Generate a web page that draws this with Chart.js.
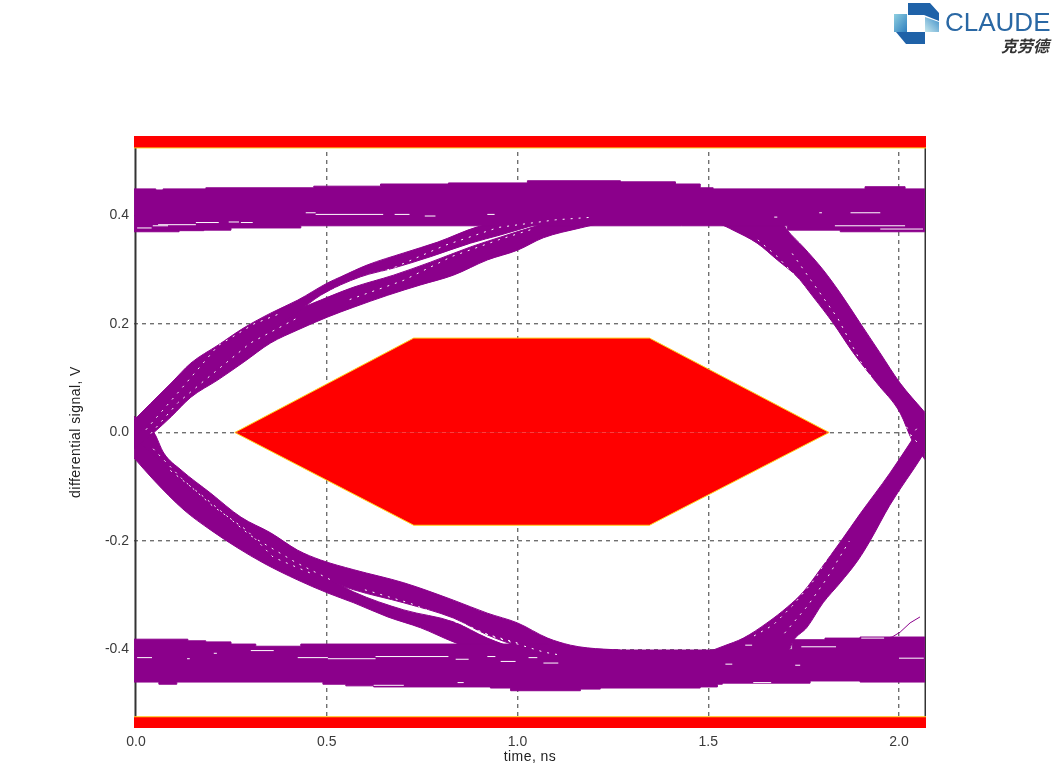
<!DOCTYPE html>
<html><head><meta charset="utf-8">
<style>
html,body{margin:0;padding:0;background:#fff;width:1058px;height:778px;overflow:hidden}
#wrap{position:relative;width:1058px;height:778px}
canvas{position:absolute;left:0;top:0}
#logo{position:absolute;left:880px;top:0}
#lt{position:absolute;left:945px;top:8px;font:26px "Liberation Sans",sans-serif;color:#2a68a4;line-height:28px}
#lc{position:absolute;left:1001px;top:35px;font:italic 700 16px "Noto Sans CJK SC",sans-serif;color:#333;line-height:20px}
</style>
<script src="https://cdn.jsdelivr.net/npm/chart.js@4/dist/chart.umd.min.js"></script>
</head><body><div id="wrap">
<canvas id="c" width="1058" height="778"></canvas>
<svg id="logo" width="70" height="50" viewBox="0 0 70 50">
<defs>
<linearGradient id="g1" x1="0" y1="0" x2="1" y2="1"><stop offset="0" stop-color="#8fcfe0"/><stop offset="1" stop-color="#2f7fbf"/></linearGradient>
<linearGradient id="g2" x1="1" y1="0" x2="0" y2="1"><stop offset="0" stop-color="#3f8fc8"/><stop offset="1" stop-color="#c8e8ee"/></linearGradient>
</defs>
<polygon points="14,14 27,14 27,32 14,32" fill="url(#g1)"/>
<polygon points="45,17 59,22 59,32 45,32" fill="url(#g2)"/>
<polygon points="28,3 50,3 59,13 59,21 44,15 28,15" fill="#1f62a8"/>
<polygon points="16,32 45,32 45,44 36,44 26,44" fill="#1f62a8"/>
</svg>
<div id="lt">CLAUDE</div>
<div id="lc">克劳德</div>
</div>
<script>
const xTicks=[0,0.5,1,1.5,2];
const yTicks=[0.4,0.2,0,-0.2,-0.4];
const xTitle='time, ns', yTitle='differential signal, V';

const topUpX=[-.005,.052,.071,.183,.466,.641,.819,1.026,1.270,1.414,1.479,1.513,1.911,2.016,2.068];
const topUpY=[.449,.447,.449,.451,.454,.458,.460,.464,.462,.458,.451,.449,.453,.449,.449];
const topLoX=[-.005,.113,.178,.249,.432,1.43,1.707,1.846,2.068];
const topLoY=[.370,.372,.373,.377,.381,.381,.373,.370,.370];
const botUpX=[-.005,.136,.183,.249,.314,.432,.877,1.08,1.72,1.806,1.898,2.068];
const botUpY=[-.381,-.384,-.386,-.390,-.394,-.390,-.390,-.401,-.382,-.379,-.377,-.377];
const botLoX=[-.005,.060,.107,.490,.550,.623,.929,.982,1.165,1.217,1.479,1.524,1.537,1.767,1.898,2.068];
const botLoY=[-.460,-.464,-.460,-.464,-.467,-.469,-.471,-.476,-.473,-.471,-.469,-.464,-.462,-.458,-.460,-.460];

const riseAUpX=[-.005,.039,.092,.144,.215,.283,.353,.424,.503,.537,.607,.702,.791,.895,1.042];
const riseAUpY=[.023,.054,.091,.128,.161,.193,.220,.244,.276,.287,.309,.331,.351,.379,.40];
const riseALoX=[-.005,.092,.215,.353,.424,.484,.589,.675,.772,.877,.955,1.042];
const riseALoY=[-.008,.051,.119,.189,.222,.253,.287,.303,.324,.349,.364,.382];
const riseBUpX=[-.005,.092,.215,.353,.424,.484,.571,.675,.772,.877,.955,1.042,1.165,1.322];
const riseBUpY=[.005,.064,.130,.198,.226,.244,.268,.290,.314,.342,.360,.379,.40,.41];
const riseBLoX=[-.005,.047,.092,.144,.215,.283,.353,.424,.503,.571,.660,.746,.832,.921,1.0,1.068,1.165,1.236,1.322];
const riseBLoY=[-.03,0,.029,.065,.097,.130,.165,.189,.213,.231,.253,.272,.290,.318,.336,.359,.377,.388,.395];

const fallAUpX=[-.005,.047,.073,.118,.196,.275,.353,.424,.484,.571,.702,.832,.921,1.0,1.079,1.139,1.183,1.27];
const fallAUpY=[.03,0,-.038,-.069,-.112,-.156,-.185,-.217,-.235,-.253,-.277,-.309,-.333,-.351,-.379,-.392,-.397,-.401];
const fallALoX=[-.005,.118,.275,.424,.524,.571,.702,.832,.921,1.008,1.113,1.27];
const fallALoY=[-.01,-.085,-.175,-.245,-.278,-.290,-.314,-.342,-.373,-.395,-.41,-.42];
const fallBUpX=[-.005,.118,.275,.424,.524,.571,.702,.832,.921,1.008,1.113];
const fallBUpY=[-.01,-.075,-.165,-.24,-.276,-.294,-.327,-.349,-.379,-.401,-.42];
const fallBLoX=[-.005,.047,.126,.196,.267,.335,.424,.503,.571,.660,.746,.832,.877,1.113];
const fallBLoY=[-.047,-.088,-.143,-.180,-.213,-.241,-.272,-.296,-.314,-.340,-.360,-.386,-.397,-.43];

const dropUpX=[1.479,1.68,1.707,1.749,1.801,1.846,1.898,1.950,2.003,2.063,2.068];
const dropUpY=[.40,.40,.373,.342,.300,.257,.202,.147,.091,.041,.037];
const dropLoX=[1.479,1.531,1.565,1.628,1.681,1.733,1.775,1.827,1.880,1.942,2.003,2.034,2.068];
const dropLoY=[.392,.384,.373,.349,.318,.287,.250,.202,.147,.091,.036,-.014,-.05];
const climbUpX=[1.479,1.539,1.592,1.654,1.707,1.749,1.793,1.848,1.898,1.976,2.034,2.068];
const climbUpY=[-.41,-.394,-.379,-.351,-.322,-.294,-.253,-.200,-.150,-.075,-.014,.023];
const climbLoX=[1.479,1.70,1.722,1.759,1.801,1.846,1.893,1.924,1.976,2.063,2.068];
const climbLoY=[-.42,-.42,-.385,-.359,-.314,-.277,-.235,-.200,-.134,-.041,-.035];
const spurX=[1.96,1.982,2.003,2.029,2.055];
const spurY=[-.38,-.377,-.368,-.351,-.340];

const maskUpX=[.259,.728,1.346,1.817];
const maskUpY=[0,.174,.174,0];
const maskLoX=[.259,.728,1.346,1.817];
const maskLoY=[0,-.171,-.171,0];
const barX=[-.0052,2.0708];
const barTopEdge=[.5245,.5245];
const barBotEdge=[-.524,-.524];
const frameX=[-.0013,2.0695];
const frameY=[.5245,-.524];

const railGapX=[.003,.041,null,.044,.084,null,.058,.157,null,.157,.217,null,.243,.270,null,.275,.306,null,.445,.471,null,.471,.648,null,.678,.717,null,.757,.785,null,.921,.94,null,1.518,1.558,null,1.673,1.681,null,1.791,1.798,null,1.873,1.951,null,1.832,2.016,null,1.951,2.063,null,
 .003,.042,null,.134,.141,null,.204,.212,null,.301,.361,null,.424,.503,null,.503,.628,null,.628,.819,null,.838,.872,null,.921,.942,null,.956,.995,null,1.029,1.052,null,1.068,1.107,null,.623,.702,null,.843,.859,null,1.545,1.563,null,1.597,1.615,null,1.728,1.741,null,1.618,1.665,null,1.744,1.835,null,1.901,1.961,null,2.0,2.065];
const railGapY=[.377,.377,null,.381,.381,null,.383,.383,null,.387,.387,null,.388,.388,null,.387,.387,null,.405,.405,null,.402,.402,null,.402,.402,null,.399,.399,null,.402,.402,null,.457,.457,null,.397,.397,null,.405,.405,null,.405,.405,null,.381,.381,null,.375,.375,null,
 -.415,-.415,null,-.417,-.417,null,-.407,-.407,null,-.402,-.402,null,-.415,-.415,null,-.417,-.417,null,-.413,-.413,null,-.418,-.418,null,-.413,-.413,null,-.422,-.422,null,-.415,-.415,null,-.425,-.425,null,-.466,-.466,null,-.461,-.461,null,-.427,-.427,null,-.392,-.392,null,-.429,-.429,null,-.461,-.461,null,-.395,-.395,null,-.379,-.379,null,-.416,-.416];

const dotsX=[.026,.112,.215,.309,.38,null,.039,.110,.178,.3,.42,null,.52,.68,.81,.95,1.1,1.2,null,.56,.70,.83,.95,1.04,null,.045,.12,.2,.29,.36,.46,null,.09,.18,.3,.42,.52,null,.66,.75,.85,.93,1.0,1.07,1.11,null,.6,.72,.84,.92,1.0,null,1.63,1.68,1.74,1.8,1.86,1.93,2.0,2.05,null,1.72,1.77,1.84,1.9,1.96,2.03,null,1.62,1.67,1.72,1.78,1.84,1.9,1.98,2.05,null,1.70,1.76,1.81,1.87];
const dotsY=[.005,.075,.16,.2,.22,null,-.002,.055,.095,.165,.21,null,.265,.305,.345,.378,.392,.397,null,.245,.28,.325,.355,.375,null,-.03,-.085,-.135,-.18,-.23,-.26,null,-.07,-.12,-.19,-.24,-.275,null,-.31,-.325,-.35,-.375,-.39,-.405,-.41,null,-.29,-.315,-.35,-.372,-.388,null,.355,.325,.28,.22,.16,.09,.02,-.02,null,.33,.28,.21,.13,.07,0,null,-.375,-.355,-.32,-.27,-.2,-.13,-.05,.01,null,-.37,-.32,-.27,-.2];

const PURPLE='#8B008B', RED='#FF0000', YEL='#FFD21E';
const zip=(xs,ys)=>xs.map((x,i)=>({x:x,y:ys[i]}));
const base={pointRadius:0,pointHoverRadius:0,tension:0};
const edge=(xs,ys,extra)=>Object.assign({},base,{data:zip(xs,ys),borderColor:PURPLE,backgroundColor:PURPLE,borderWidth:1,fill:false},extra||{});
const pair=(ux,uy,lx,ly,extra)=>[edge(ux,uy,Object.assign({fill:'+1'},extra||{})),edge(lx,ly,extra||{})];
const smooth={cubicInterpolationMode:'monotone'};

const datasets=[
 Object.assign({},base,{label:'gaps',data:zip(railGapX,railGapY),borderColor:'#fff',borderWidth:1,fill:false,spanGaps:false}),
 Object.assign({},base,{label:'dots',data:zip(dotsX,dotsY),borderColor:'#fff',borderWidth:1,borderDash:[2,6],fill:false,spanGaps:false}),
 ...pair(topUpX,topUpY,topLoX,topLoY,{stepped:true}),
 ...pair(botUpX,botUpY,botLoX,botLoY,{stepped:true}),
 ...pair(riseAUpX,riseAUpY,riseALoX,riseALoY,smooth),
 ...pair(riseBUpX,riseBUpY,riseBLoX,riseBLoY,smooth),
 ...pair(fallAUpX,fallAUpY,fallALoX,fallALoY,smooth),
 ...pair(fallBUpX,fallBUpY,fallBLoX,fallBLoY,smooth),
 ...pair(dropUpX,dropUpY,dropLoX,dropLoY,smooth),
 ...pair(climbUpX,climbUpY,climbLoX,climbLoY,smooth),
 edge(spurX,spurY),
 Object.assign({},base,{data:zip(maskUpX,maskUpY),borderColor:YEL,backgroundColor:RED,borderWidth:1,fill:{value:0}}),
 Object.assign({},base,{data:zip(maskLoX,maskLoY),borderColor:YEL,backgroundColor:RED,borderWidth:1,fill:{value:0}}),
 Object.assign({},base,{data:zip(barX,barTopEdge),borderColor:YEL,backgroundColor:RED,borderWidth:1,fill:'end'}),
 Object.assign({},base,{data:zip(barX,barBotEdge),borderColor:YEL,backgroundColor:RED,borderWidth:1,fill:'start'}),
 Object.assign({},base,{data:[{x:frameX[0],y:frameY[0]},{x:frameX[0],y:frameY[1]}],borderColor:'#333',borderWidth:2,fill:false}),
 Object.assign({},base,{data:[{x:frameX[1],y:frameY[0]},{x:frameX[1],y:frameY[1]}],borderColor:'#333',borderWidth:2,fill:false})
];

const spreadTitles={id:'spreadTitles',afterLayout(chart){
  [chart.scales.x,chart.scales.y].forEach(s=>{
    if(s._spread)return; s._spread=true;
    const orig=s.drawTitle;
    s.drawTitle=function(){const c=this.ctx;c.save();c.letterSpacing='0.45px';orig.apply(this,arguments);c.restore();};
  });
}};
const tickFont={family:'"Liberation Sans",Arial,sans-serif',size:14};
const titleFont={family:'"Liberation Sans",Arial,sans-serif',size:14};
new Chart(document.getElementById('c'),{
 type:'line',
 data:{datasets},
 plugins:[spreadTitles],
 options:{
  responsive:false,animation:false,devicePixelRatio:1,
  layout:{padding:{left:0,right:132,top:136,bottom:0}},
  plugins:{legend:{display:false},tooltip:{enabled:false}},
  scales:{
   x:{type:'linear',min:-.0052,max:2.0708,
      afterBuildTicks(s){s.ticks=xTicks.map(v=>({value:v}));},
      afterFit(s){s.height=50;},
      border:{display:false,dash:[4,4]},
      grid:{color:c=>c.tick&&c.tick.value===0?'rgba(0,0,0,0)':'#707070',lineWidth:1.4,drawTicks:false},
      ticks:{font:tickFont,color:'#3a3a3a',padding:6,maxRotation:0,callback:v=>v.toFixed(1)},
      title:{display:true,text:xTitle,font:titleFont,color:'#222',padding:{top:0,bottom:12}}},
   y:{type:'linear',min:-.5447,max:.5465,
      afterBuildTicks(s){s.ticks=yTicks.map(v=>({value:v}));},
      afterFit(s){s.width=134;},
      border:{display:false,dash:[4,4]},
      grid:{color:'#707070',lineWidth:1.4,drawTicks:false},
      ticks:{font:tickFont,color:'#3a3a3a',padding:5,callback:v=>v.toFixed(1)},
      title:{display:true,text:yTitle,font:titleFont,color:'#222',padding:{top:68,bottom:0}}}
  }
 }
});
</script>
</body></html>
